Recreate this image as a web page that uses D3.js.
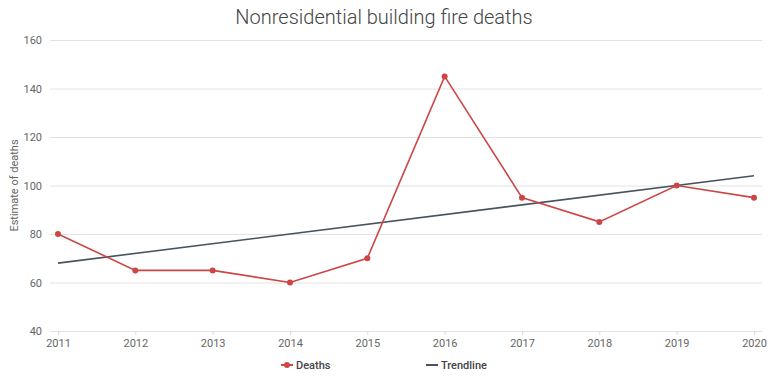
<!DOCTYPE html>
<html>
<head>
<meta charset="utf-8">
<script src="https://cdn.jsdelivr.net/npm/d3@7"></script>
<style>
  body { margin: 0; background: #fff; }
  text { font-family: Roboto, "Open Sans", sans-serif; }
</style>
</head>
<body>
<div id="chart"></div>
<script>
const years = [2011, 2012, 2013, 2014, 2015, 2016, 2017, 2018, 2019, 2020];
const deaths = [80, 65, 65, 60, 70, 145, 95, 85, 100, 95];
const trendYears = [2011, 2020];
const trendValues = [68, 104];
const yTicks = [40, 60, 80, 100, 120, 140, 160];

const W = 768, H = 384;
const RED = "#cc4646", SLATE = "#47535f";

const svg = d3.select("#chart").append("svg")
    .attr("width", W)
    .attr("height", H);

const x = d3.scaleLinear().domain([2011, 2020]).range([58, 754]);
const y = d3.scaleLinear().domain([40, 160]).range([331, 40]);

// title
svg.append("text")
    .attr("x", W / 2).attr("y", 24)
    .attr("text-anchor", "middle")
    .attr("font-size", 20)
    .attr("font-weight", 300)
    .attr("fill", "#444")
    .text("Nonresidential building fire deaths");

// gridlines + y labels
const yAxis = svg.append("g")
    .attr("transform", "translate(50,0)")
    .call(d3.axisLeft(y).tickValues(yTicks).tickSize(-712).tickPadding(8));
yAxis.select(".domain").remove();
yAxis.selectAll("line").attr("stroke", "#e3e3e3");
yAxis.selectAll("text").attr("font-size", 11).attr("fill", "#666")
    .attr("font-family", "Roboto, sans-serif");

// x axis
const xAxis = svg.append("g")
    .attr("transform", "translate(0,331)")
    .call(d3.axisBottom(x).tickValues(years).tickFormat(d3.format("d")).tickSize(4).tickPadding(4));
xAxis.select(".domain").remove();
xAxis.selectAll("line").attr("stroke", "#ddd");
xAxis.selectAll("text").attr("font-size", 11).attr("fill", "#666")
    .attr("font-family", "Roboto, sans-serif");

// y title
svg.append("text")
    .attr("transform", "translate(18," + ((40 + 331) / 2) + ") rotate(-90)")
    .attr("text-anchor", "middle")
    .attr("font-size", 11)
    .attr("fill", "#666")
    .text("Estimate of deaths");

// trendline
const trendLine = d3.line().x((d, i) => x(trendYears[i])).y(d => y(d));
svg.append("path")
    .attr("d", trendLine(trendValues))
    .attr("fill", "none")
    .attr("stroke", SLATE)
    .attr("stroke-width", 1.6);

// deaths line
const line = d3.line().x((d, i) => x(years[i])).y(d => y(d));
svg.append("path")
    .attr("d", line(deaths))
    .attr("fill", "none")
    .attr("stroke", RED)
    .attr("stroke-width", 1.6);

svg.append("g").selectAll("circle")
    .data(deaths)
    .join("circle")
    .attr("cx", (d, i) => x(years[i]))
    .attr("cy", d => y(d))
    .attr("r", 3)
    .attr("fill", RED);

// legend
const legend = svg.append("g").attr("transform", "translate(0,365)");
legend.append("line")
    .attr("x1", 281).attr("x2", 293).attr("y1", 0).attr("y2", 0)
    .attr("stroke", RED).attr("stroke-width", 2);
legend.append("circle").attr("cx", 287).attr("cy", 0).attr("r", 3).attr("fill", RED);
legend.append("text")
    .attr("x", 296).attr("y", 4)
    .attr("font-size", 11).attr("font-weight", 500).attr("fill", "#444")
    .text("Deaths");
legend.append("line")
    .attr("x1", 426).attr("x2", 438).attr("y1", 0).attr("y2", 0)
    .attr("stroke", SLATE).attr("stroke-width", 2);
legend.append("text")
    .attr("x", 441).attr("y", 4)
    .attr("font-size", 11).attr("font-weight", 500).attr("fill", "#444")
    .text("Trendline");
</script>
</body>
</html>
